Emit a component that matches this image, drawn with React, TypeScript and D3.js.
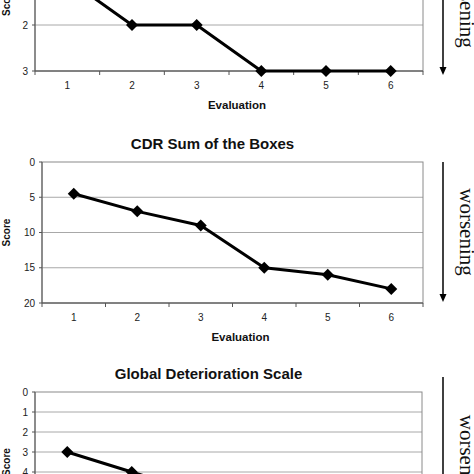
import * as d3 from 'd3'

const evaluations = [1, 2, 3, 4, 5, 6]

const cdrScores = [1, 2, 2, 3, 3, 3]
const cdrTicks = [0, 1, 2, 3]

const sumBoxesScores = [4.5, 7, 9, 15, 16, 18]
const sumBoxesTicks = [0, 5, 10, 15, 20]

const gdsScores = [3, 4, 5, 5, 6, 6]
const gdsTicks = [0, 1, 2, 3, 4, 5, 6, 7]

interface PanelProps {
  title: string
  scores: number[]
  ticks: number[]
  left: number
  right: number
  top: number
  bottom: number
  arrowTop: number
  arrowBottom: number
}

const sans = 'Arial, "Liberation Sans", Helvetica, sans-serif'
const serif = '"Times New Roman", "Liberation Serif", serif'

// square diamond marker, half-diagonal r
const diamond = (r: number) => `M0,${-r}L${r},0L0,${r}L${-r},0Z`

function Panel({
  title,
  scores,
  ticks,
  left,
  right,
  top,
  bottom,
  arrowTop,
  arrowBottom,
}: PanelProps) {
  const x = d3
    .scaleBand<number>()
    .domain(evaluations)
    .range([left, right])
  const y = d3
    .scaleLinear()
    .domain([ticks[0], ticks[ticks.length - 1]])
    .range([top, bottom])

  const cx = (i: number) => x(evaluations[i])! + x.bandwidth() / 2

  const line = d3
    .line<number>()
    .x((_, i) => cx(i))
    .y(d => y(d))

  const arrowX = 443
  const midY = (top + bottom) / 2

  return (
    <g>
      {/* Title */}
      <text
        x={(left + right) / 2 - 20}
        y={top - 13}
        textAnchor="middle"
        fontFamily={sans}
        fontWeight="bold"
        fontSize={15}
        fill="#111"
      >
        {title}
      </text>

      {/* Gridlines */}
      {ticks.slice(1).map(t => (
        <line
          key={t}
          x1={left}
          x2={right}
          y1={y(t)}
          y2={y(t)}
          stroke="#a8a8a8"
          strokeWidth={1}
        />
      ))}

      {/* Plot frame */}
      <rect
        x={left}
        y={top}
        width={right - left}
        height={bottom - top}
        fill="none"
        stroke="#8a8a8a"
        strokeWidth={1}
      />
      <line x1={left} x2={left} y1={top} y2={bottom} stroke="#555" />
      <line x1={left} x2={right} y1={bottom} y2={bottom} stroke="#555" />

      {/* Y axis ticks and labels */}
      {ticks.map(t => (
        <g key={t}>
          <line
            x1={left - 3}
            x2={left}
            y1={y(t)}
            y2={y(t)}
            stroke="#555"
          />
          <text
            x={left - 7}
            y={y(t) + 3.5}
            textAnchor="end"
            fontFamily={sans}
            fontSize={10}
            fill="#222"
          >
            {t}
          </text>
        </g>
      ))}

      {/* X axis ticks at category boundaries */}
      {evaluations.map(e => (
        <line
          key={e}
          x1={x(e)! + x.bandwidth()}
          x2={x(e)! + x.bandwidth()}
          y1={bottom}
          y2={bottom + 4}
          stroke="#555"
        />
      ))}
      <line x1={left} x2={left} y1={bottom} y2={bottom + 4} stroke="#555" />

      {evaluations.map((e, i) => (
        <text
          key={e}
          x={cx(i)}
          y={bottom + 18}
          textAnchor="middle"
          fontFamily={sans}
          fontSize={10}
          fill="#222"
        >
          {e}
        </text>
      ))}

      <text
        x={(left + right) / 2 + 8}
        y={bottom + 38}
        textAnchor="middle"
        fontFamily={sans}
        fontWeight="bold"
        fontSize={11.5}
        fill="#111"
      >
        Evaluation
      </text>

      <text
        transform={`translate(10,${midY}) rotate(-90)`}
        textAnchor="middle"
        fontFamily={sans}
        fontWeight="bold"
        fontSize={10}
        fill="#111"
      >
        Score
      </text>

      {/* Series */}
      <path
        d={line(scores) ?? ''}
        fill="none"
        stroke="#000"
        strokeWidth={3}
        strokeLinejoin="round"
      />
      {scores.map((s, i) => (
        <path
          key={i}
          d={diamond(6)}
          transform={`translate(${cx(i)},${y(s)})`}
          fill="#000"
        />
      ))}

      {/* Worsening arrow */}
      <line
        x1={arrowX}
        x2={arrowX}
        y1={arrowTop}
        y2={arrowBottom - 6}
        stroke="#000"
        strokeWidth={1.5}
      />
      <path
        d={`M${arrowX - 3.5},${arrowBottom - 8}L${arrowX + 3.5},${arrowBottom - 8}L${arrowX},${arrowBottom}Z`}
        fill="#000"
      />
      <text
        transform={`translate(460,${(arrowTop + arrowBottom) / 2}) rotate(90)`}
        textAnchor="middle"
        fontFamily={serif}
        fontSize={21}
        fill="#111"
      >
        worsening
      </text>
    </g>
  )
}

export default function App() {
  return (
    <div style={{ position: 'absolute', left: 0, top: 0 }}>
      <svg width={474} height={474} style={{ display: 'block', background: '#fff' }}>
        <Panel
          title="CDR"
          scores={cdrScores}
          ticks={cdrTicks}
          left={35}
          right={423}
          top={-67}
          bottom={71}
          arrowTop={-67}
          arrowBottom={75}
        />
        <Panel
          title="CDR Sum of the Boxes"
          scores={sumBoxesScores}
          ticks={sumBoxesTicks}
          left={42}
          right={423}
          top={162}
          bottom={303}
          arrowTop={162}
          arrowBottom={302}
        />
        <Panel
          title="Global Deterioration Scale"
          scores={gdsScores}
          ticks={gdsTicks}
          left={35}
          right={422}
          top={392}
          bottom={532}
          arrowTop={377}
          arrowBottom={540}
        />
      </svg>
    </div>
  )
}
